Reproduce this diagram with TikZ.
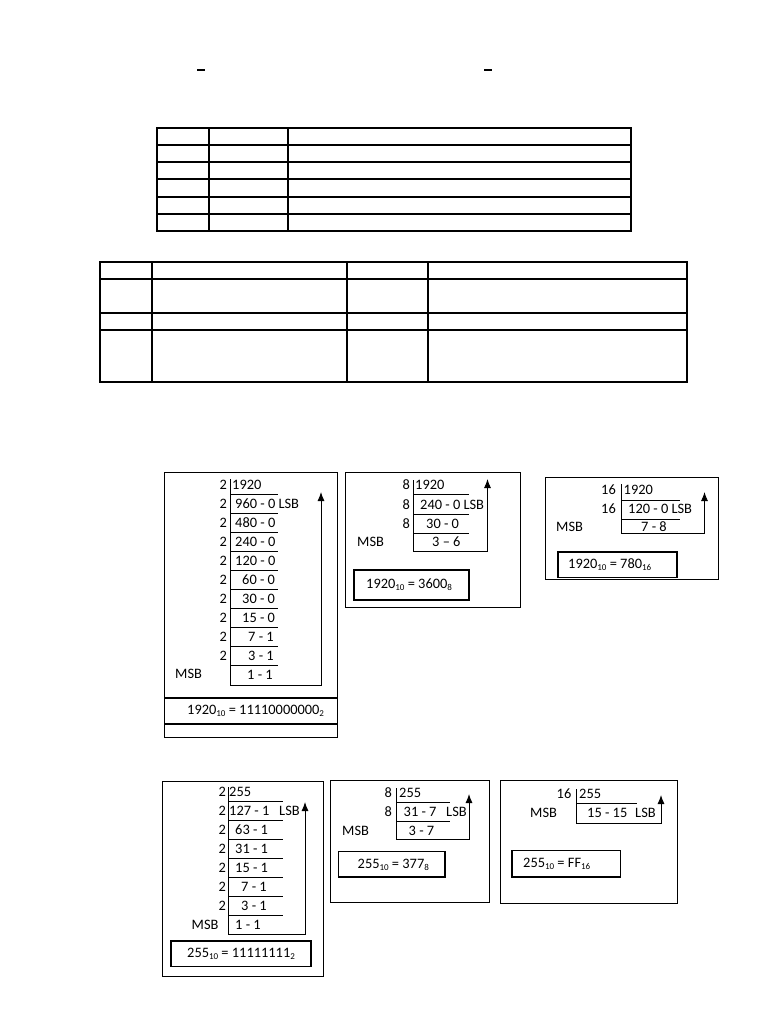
\documentclass[tikz,border=0pt]{standalone}
\usepackage{fontspec}
\setmainfont{Carlito}
\usepackage{tikz}
\usetikzlibrary{positioning,arrows.meta}

\newcommand{\lowidx}[1]{\raisebox{-0.3ex}{\fontsize{9}{10}\selectfont #1}}

\tikzset{
  frame/.style={draw,line width=1pt},
  cell/.style={line width=1.1pt},
  rule/.style={line width=0.9pt},
  result/.style={draw,line width=1.5pt},
  txt/.style={anchor=west,inner sep=0pt},
  dvs/.style={anchor=east,inner sep=0pt},
}

\begin{document}
\begin{tikzpicture}[x=1pt,y=-1pt,>={Latex[length=9pt,width=7pt]},
  every node/.style={font=\fontsize{14.4}{17}\selectfont}]
\useasboundingbox[fill=white] (0,0) rectangle (768,1024);

% header marks
\draw[line width=1.6pt] (197,70) -- (205,70);
\draw[line width=1.6pt] (484,70) -- (492,70);

% empty tables
\draw[cell] (157,128) rectangle (631,231);
\draw[cell] (157,145) -- (631,145) (157,162) -- (631,162) (157,179) -- (631,179)
  (157,197) -- (631,197) (157,214) -- (631,214)
  (209,128) -- (209,231) (288,128) -- (288,231);
\draw[cell] (100,262) rectangle (687,382);
\draw[cell] (100,279) -- (687,279) (100,313) -- (687,313) (100,330) -- (687,330)
  (152,262) -- (152,382) (347,262) -- (347,382) (428,262) -- (428,382);

% 1920 to base 2
\draw[frame] (164.5,472.5) rectangle (337.5,737);
\node[dvs] (da0) at (227,485) {2};
\node[dvs] (da1) at (227,504) {2};
\node[dvs] (da2) at (227,523) {2};
\node[dvs] (da3) at (227,542) {2};
\node[dvs] (da4) at (227,561) {2};
\node[dvs] (da5) at (227,580) {2};
\node[dvs] (da6) at (227,599) {2};
\node[dvs] (da7) at (227,618) {2};
\node[dvs] (da8) at (227,637) {2};
\node[dvs] (da9) at (227,656) {2};
\node[txt] (a0) at (232,485) {1920};
\node[txt] (a1) at (235,504) {960 - 0 LSB};
\node[txt] (a2) at (235,523) {480 - 0};
\node[txt] (a3) at (235,542) {240 - 0};
\node[txt] (a4) at (235,561) {120 - 0};
\node[txt] (a5) at (242,580) {60 - 0};
\node[txt] (a6) at (242,599) {30 - 0};
\node[txt] (a7) at (242,618) {15 - 0};
\node[txt] (a8) at (248,637) {7 - 1};
\node[txt] (a9) at (248,656) {3 - 1};
\node[txt] (a10) at (247,675) {1 - 1};
\node[txt] (msbA) at (175,674) {MSB};
\draw[rule] (230,494.5) -- (278,494.5) (230,513.5) -- (278,513.5) (230,532.5) -- (278,532.5)
  (230,551.5) -- (278,551.5) (230,570.5) -- (278,570.5) (230,589.5) -- (278,589.5)
  (230,608.5) -- (278,608.5) (230,627.5) -- (278,627.5) (230,646.5) -- (278,646.5)
  (230,665.5) -- (278,665.5);
\coordinate (A-top) at (230,479);
\coordinate (A-corner) at (230,685);
\coordinate (A-base) at (321,685);
\coordinate (A-tip) at (321,492);
\draw[rule,->] (A-top) -- (A-corner) -- (A-base) -- (A-tip);
\draw[result] (164.5,698) rectangle (337.5,724);
\node[txt] (resA) at (187,711) {1920\lowidx{10} = 11110000000\lowidx{2}};

% 1920 to base 8
\draw[frame] (345.5,472.5) rectangle (520,607);
\node[dvs] (db0) at (410,485) {8};
\node[dvs] (db1) at (410,504.5) {8};
\node[dvs] (db2) at (410,523.5) {8};
\node[txt] (b0) at (415,485) {1920};
\node[txt] (b1) at (420,504.5) {240 - 0 LSB};
\node[txt] (b2) at (426,523.5) {30 - 0};
\node[txt] (b3) at (432,542) {3 – 6};
\node[txt] (msbB) at (357,542) {MSB};
\draw[rule] (413.5,494.5) -- (469,494.5) (413.5,514) -- (469,514) (413.5,533) -- (469,533);
\coordinate (B-top) at (413.5,480);
\coordinate (B-corner) at (413.5,551.5);
\coordinate (B-base) at (487.5,551.5);
\coordinate (B-tip) at (487.5,479);
\draw[rule,->] (B-top) -- (B-corner) -- (B-base) -- (B-tip);
\draw[result] (354,570) rectangle (469,600);
\node[txt] (resB) at (366,585) {1920\lowidx{10} = 3600\lowidx{8}};

% 1920 to base 16
\draw[frame] (545,477) rectangle (718,579);
\node[dvs] (dc0) at (616,490) {16};
\node[dvs] (dc1) at (616,508.5) {16};
\node[txt] (c0) at (623.5,490) {1920};
\node[txt] (c1) at (628,508.5) {120 - 0 LSB};
\node[txt] (c2) at (641,527) {7 - 8};
\node[txt] (msbC) at (556,527) {MSB};
\draw[rule] (621,500) -- (680,500) (621,519) -- (680,519);
\coordinate (C-top) at (621,484);
\coordinate (C-corner) at (621,533.5);
\coordinate (C-base) at (704.5,533.5);
\coordinate (C-tip) at (704.5,492);
\draw[rule,->] (C-top) -- (C-corner) -- (C-base) -- (C-tip);
\draw[result] (558,552) rectangle (677,577.5);
\node[txt] (resC) at (568,565) {1920\lowidx{10} = 780\lowidx{16}};

% 255 to base 2
\draw[frame] (162.5,781.5) rectangle (323,976.5);
\node[dvs] (dd0) at (226,792) {2};
\node[dvs] (dd1) at (226,811) {2};
\node[dvs] (dd2) at (226,830) {2};
\node[dvs] (dd3) at (226,849) {2};
\node[dvs] (dd4) at (226,868) {2};
\node[dvs] (dd5) at (226,887) {2};
\node[dvs] (dd6) at (226,906) {2};
\node[txt] (d0) at (229,792) {255};
\node[txt] (d1) at (229,811) {127 - 1};
\node[txt] (lsbD) at (279,811) {LSB};
\node[txt] (d2) at (235,830) {63 - 1};
\node[txt] (d3) at (235,849) {31 - 1};
\node[txt] (d4) at (235,868) {15 - 1};
\node[txt] (d5) at (241,887) {7 - 1};
\node[txt] (d6) at (241,906) {3 - 1};
\node[txt] (d7) at (235,925) {1 - 1};
\node[txt] (msbD) at (191.5,925) {MSB};
\draw[rule] (228,801.5) -- (283,801.5) (228,820.5) -- (283,820.5) (228,839.5) -- (283,839.5)
  (228,858.5) -- (283,858.5) (228,877.5) -- (283,877.5) (228,896.5) -- (283,896.5)
  (228,915.5) -- (283,915.5);
\coordinate (D-top) at (228,787);
\coordinate (D-corner) at (228,934);
\coordinate (D-base) at (305,934);
\coordinate (D-tip) at (305,802);
\draw[rule,->] (D-top) -- (D-corner) -- (D-base) -- (D-tip);
\draw[result] (171,941) rectangle (311,966.5);
\node[txt] (resD) at (187,954) {255\lowidx{10} = 11111111\lowidx{2}};

% 255 to base 8
\draw[frame] (330.5,780.5) rectangle (489,902.5);
\node[dvs] (de0) at (392,793) {8};
\node[dvs] (de1) at (392,812) {8};
\node[txt] (e0) at (399,793) {255};
\node[txt] (e1) at (403.5,812) {31 - 7};
\node[txt] (lsbE) at (446,812) {LSB};
\node[txt] (e2) at (408.5,831) {3 - 7};
\node[txt] (msbE) at (342,831) {MSB};
\draw[rule] (396,802.5) -- (450,802.5) (396,821.5) -- (450,821.5);
\coordinate (E-top) at (396,788);
\coordinate (E-corner) at (396,839);
\coordinate (E-base) at (469,839);
\coordinate (E-tip) at (469,794);
\draw[rule,->] (E-top) -- (E-corner) -- (E-base) -- (E-tip);
\draw[result] (338.5,851.5) rectangle (445,877);
\node[txt] (resE) at (357.5,864.5) {255\lowidx{10} = 377\lowidx{8}};

% 255 to base 16
\draw[frame] (500.5,780.5) rectangle (677.5,903);
\node[dvs] (df0) at (571.5,794) {16};
\node[txt] (f0) at (579,794) {255};
\node[txt] (f1) at (587,813) {15 - 15};
\node[txt] (lsbF) at (635,813) {LSB};
\node[txt] (msbF) at (530,813) {MSB};
\draw[rule] (576,803.5) -- (637,803.5);
\coordinate (F-top) at (576,789);
\coordinate (F-corner) at (576,823.5);
\coordinate (F-base) at (661,823.5);
\coordinate (F-tip) at (661,795);
\draw[rule,->] (F-top) -- (F-corner) -- (F-base) -- (F-tip);
\draw[result] (512,850.5) rectangle (620.5,877);
\node[txt] (resF) at (523,864) {255\lowidx{10} = FF\lowidx{16}};
\end{tikzpicture}
\end{document}
